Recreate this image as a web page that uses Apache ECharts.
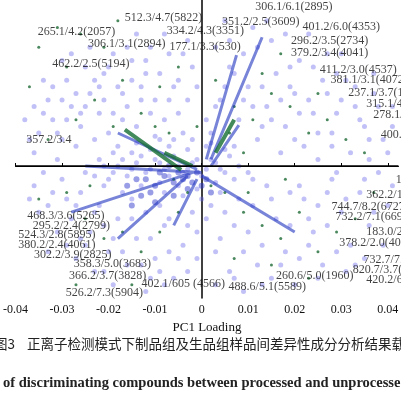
<!DOCTYPE html>
<html>
<head>
<meta charset="utf-8">
<script src="https://cdn.jsdelivr.net/npm/echarts@6/dist/echarts.min.js"></script>
<style>html,body{margin:0;padding:0;background:#fff}#main{width:401px;height:400px}</style>
</head>
<body>
<div id="main"></div>
<script>
// loadings, in thousandths (x = PC1, y = PC2)
var bluePts = [
 [-10,2],[-8,-1],[-6,3],[-4,-2],[-2,1],[0,-3],[2,2],[4,-1],[6,3],[-9,-5],[-5,-6],[-1,-7],[3,-5],[7,-4],[-11,5],[-7,6],[-3,5],[1,6],[5,5],[-12,-2],[-14,1],[-16,-3],[-13,-6],[8,0],[10,-2],[-15,4],[-18,0],[-20,-4],[-17,-8],[-22,2],
 [-35,10],[-32,14],[-30,8],[-28,18],[-26,12],[-24,22],[-22,16],[-20,10],[-18,24],[-16,18],[-14,12],[-12,28],[-10,20],[-8,14],[-6,24],[-4,10],[-2,30],[-36,4],[-33,20],[-29,26],[-25,30],[-21,28],[-19,34],[-15,32],[-11,36],[-7,34],[-3,38],[-27,6],[-23,8],[-17,14],[-13,20],[-9,8],[-5,16],[-38,14],[-31,2],[-34,26],[-24,36],[-14,40],[-30,32],[-19,4],
 [2,10],[4,20],[6,30],[8,14],[10,24],[12,8],[14,18],[16,28],[18,12],[20,22],[22,6],[24,16],[26,26],[28,10],[30,20],[32,4],[34,14],[36,8],[38,18],[40,4],[3,36],[9,34],[15,38],[21,32],[27,34],[11,42],[5,44],[17,4],[25,2],[33,24],[13,12],[19,30],[29,28],[7,6],[23,40],[37,28],[41,12],
 [-36,-6],[-33,-12],[-30,-4],[-28,-16],[-26,-8],[-24,-20],[-22,-12],[-20,-26],[-18,-16],[-16,-30],[-14,-22],[-12,-14],[-10,-28],[-8,-18],[-6,-34],[-4,-24],[-2,-14],[-31,-20],[-27,-28],[-23,-32],[-19,-36],[-15,-10],[-11,-34],[-7,-26],[-3,-32],[-34,-2],[-25,-2],[-21,-6],[-9,-12],[-1,-20],
 [2,-12],[4,-22],[6,-32],[8,-10],[10,-20],[12,-30],[14,-6],[16,-16],[18,-26],[20,-36],[22,-10],[24,-20],[26,-30],[28,-4],[30,-14],[32,-24],[34,-8],[36,-18],[38,-2],[40,-12],[3,-36],[9,-38],[15,-34],[21,-28],[27,-18],[31,-32],[35,-28],[11,-4],[19,-8],[25,-12],
 [-11,-1],[-9,1],[-7,-3],[-5,0],[-3,-1],[-1,2],[1,-1],[3,1],[5,-2],[-13,3],[-15,-1],[-17,2],[-19,-2],[-21,0],[-23,-3],[-8,-8],[-4,-9],[0,-10],[4,-8],[-6,8],[-2,8],[2,7],[-10,9],[-14,7],[-18,6],
 [-37,8],[-34,16],[-31,10],[-29,14],[-27,22],[-25,18],[-23,26],[-21,20],[-19,16],[-17,22],[-15,26],[-13,24],[-11,16],[-9,28],[-7,20],[-5,26],[-3,20],[-1,24],[-30,20],[-26,16],[-22,24],[-20,30],[-16,36],[-12,32],[-8,40],[-4,34],[-28,34],[-32,24],[-36,18],
 [1,14],[3,18],[5,24],[7,28],[9,20],[11,18],[13,24],[15,14],[17,20],[19,24],[21,16],[23,20],[25,10],[27,22],[29,16],[31,26],[33,18],[35,12],[37,22],[39,8],[6,38],[12,36],[18,40],[24,30],[30,34],[14,44],[20,8],[28,6],[36,2],[41,18],
 [-37,-10],[-35,-14],[-32,-8],[-29,-10],[-27,-12],[-25,-24],[-23,-14],[-21,-18],[-19,-22],[-17,-26],[-15,-16],[-13,-30],[-11,-22],[-9,-32],[-7,-16],[-5,-28],[-3,-18],[-1,-28],[-29,-24],[-26,-22],[-33,-26],[-21,-32],[-12,-38],[-8,-36],
 [1,-16],[3,-26],[5,-14],[7,-18],[9,-26],[11,-12],[13,-24],[15,-10],[17,-30],[19,-18],[21,-6],[23,-24],[25,-34],[27,-8],[29,-26],[31,-10],[33,-30],[35,-4],[37,-14],[39,-24],[7,-34],[13,-36],[23,-16],[29,-2],[41,-6]
];
// darker dense core around the origin
var corePts = [
 [-12,-4],[-10,-6],[-8,-3],[-6,-5],[-4,-4],[-2,-5],[-9,-2],[-7,0],[-5,-2],[-3,-3],[-1,-2],[1,-4],[-14,-4],[-16,-6],[-11,-8],[-6,-9],[-3,-7],[0,-6],[2,-8],[-13,-9],[-15,-12],[-10,-11]
];
var greenPts = [
 [-37,24],[-29,30],[-26,40],[-21,36],[-17,26],[-13,16],[-9,24],[-5,30],[-1,12],[-33,8],[-27,14],[-23,20],[-19,12],[-7,10],
 [3,26],[7,18],[11,14],[15,22],[19,18],[23,10],[27,14],[31,8],[35,4],[9,4],[17,34],[25,22],[13,28],
 [-35,-10],[-29,-8],[-25,-16],[-21,-22],[-17,-20],[-13,-26],[-9,-20],[-5,-14],[-3,-8],[-27,-36],[-15,-36],
 [5,-8],[9,-14],[13,-18],[17,-22],[21,-14],[25,-26],[29,-20],[33,-16],[7,-28],[15,-30],[23,-34],[37,-8],
 [-31,42],[-35,36],[-18,44],[-10,12],[-6,-4],[2,-6],[6,10],[-24,-6],[10,-8],[18,-4]
];
// dense streaks of overlapping points: [x1,y1,x2,y2]
var blueStreaks = [
 [2,2,13,39],[1,2,7.5,33.6],[2,0,8,12.4],[-18,10,-1,-1],[-25,0,0,-2],[0,-3,20,-20],[-2,-2,-28,-14],[-3,-3,-18,-22],[-1,-4,-6,-18]
];
var greenStreaks = [
 [-16.5,11,-4.4,-1.2],[-8,4,-2,0],[3,4,7,14]
];
var labelTexts = ['512.3/4.7(5822)','265.1/4.2(2057)','306.1/3.1(2894)','334.2/4.3(3351)','177.1/3.3(530)','462.2/2.5(5194)','357.2/3.4',
 '306.1/6.1(2895)','351.2/2.5(3609)','401.2/6.0(4353)','296.2/3.5(2734)','379.2/3.4(4041)','411.2/3.0(4537)','381.1/3.1(4072)','237.1/3.7(1183)','315.1/4.2(3091)','278.1/3.0(2470)','400.2/5.9(4311)','153.1/2.1(212)',
 '362.2/10.4(3677)','744.7/8.2(6727)','732.2/7.1(6691)','183.0/2.9(951)','378.2/2.0(4021)','732.7/7.0(6693)','820.7/3.7(6902)','420.2/6.3(4659)',
 '260.6/5.0(1960)','488.6/5.1(5589)','402.1/605 (4566)','526.2/7.3(5904)','366.2/3.7(3828)','358.3/5.0(3683)','302.2/3.9(2825)','380.2/2.4(4061)','524.3/2.8(5895)','295.2/2.4(2799)','468.3/3.6(5265)'];
var labelPos = [[-16.5,44.8],[-35.2,40.6],[-24.4,37.0],[-7.5,40.9],[-6.9,36.1],[-32.1,30.9],[-37.7,7.9],
 [11.5,48.2],[4.4,43.6],[21.7,42.1],[19.2,37.9],[19.2,34.2],[25.4,29.1],[27.7,26.1],[31.5,22.1],[35.4,18.8],[36.9,15.5],[38.5,9.4],[41.7,-4.2],
 [35.4,-8.8],[27.9,-12.4],[28.75,-15.5],[35.4,-20],[29.6,-23.3],[34.8,-28.5],[32.5,-31.5],[35.4,-34.5],
 [16.0,-33.3],[5.8,-36.7],[-12.9,-35.8],[-29.2,-38.5],[-28.5,-33.3],[-27.5,-29.7],[-36.0,-27.0],[-39.4,-23.9],[-39.4,-20.9],[-36.3,-18.2],[-37.5,-15.2]];
var xTicks = [-0.04,-0.03,-0.02,-0.01,0,0.01,0.02,0.03,0.04];

function k(p){ return [p[0]/1000, p[1]/1000]; }
function segs(list){
  var out = [];
  list.forEach(function(s){ out.push([s[0]/1000,s[1]/1000]); out.push([s[2]/1000,s[3]/1000]); out.push([null,null]); });
  return out;
}

var myChart = echarts.init(document.getElementById('main'));
var serif = 'Liberation Serif';
var option = {
  animation:false,
  grid:{left:6,right:0,top:0,bottom:102},
  xAxis:{
    type:'value', min:-0.04, max:0.0423, interval:0.01,
    splitLine:{show:false},
    axisLine:{lineStyle:{color:'#000',width:1}},
    axisTick:{inside:true,length:3,lineStyle:{color:'#000'}},
    axisLabel:{color:'#111',fontFamily:serif,fontSize:12,margin:6,
      formatter:function(v){ var r=Math.round(v*100)/100; return xTicks.indexOf(r)>=0 ? (r===0?'0':String(r)) : ''; }},
    name:'PC1 Loading', nameLocation:'middle', nameGap:22,
    nameTextStyle:{color:'#111',fontFamily:serif,fontSize:13}
  },
  yAxis:{
    type:'value', min:-0.04, max:0.0503,
    splitLine:{show:false},
    axisLine:{onZero:true,lineStyle:{color:'#000',width:1.5}},
    axisTick:{show:false}, axisLabel:{show:false}
  },
  series:[
    {type:'scatter',data:bluePts.map(k),symbolSize:5,itemStyle:{color:'rgba(100,100,235,0.5)'},
     markLine:{silent:true,symbol:'none',label:{show:false},lineStyle:{color:'#000',type:'solid',width:1.5},data:[{yAxis:0}]}},
    {type:'scatter',data:corePts.map(k),symbolSize:6,itemStyle:{color:'rgba(40,50,200,0.6)'}},
    {type:'line',data:segs(blueStreaks),showSymbol:false,connectNulls:false,lineStyle:{color:'rgba(30,50,190,0.6)',width:3}},
    {type:'line',data:segs(greenStreaks),showSymbol:false,connectNulls:false,lineStyle:{color:'rgba(20,110,50,0.8)',width:4}},
    {type:'scatter',data:greenPts.map(k),symbolSize:3,itemStyle:{color:'#1d6a34'}},
    {type:'scatter',data:labelPos.map(function(p,i){return {value:k(p),name:labelTexts[i]};}),
     symbolSize:0,clip:false,
     label:{show:true,position:'inside',align:'left',formatter:'{b}',color:'#111',fontFamily:serif,fontSize:12}}
  ],
  graphic:[
    {type:'text',left:-6,top:337,style:{text:'图3    正离子检测模式下制品组及生品组样品间差异性成分分析结果载荷图',fill:'#222',font:'13.5px "Noto Sans CJK SC"'}},
    {type:'text',left:3,top:376,style:{text:'of discriminating compounds between processed and unprocessed samples',fill:'#222',font:'bold 14.5px "Liberation Serif"'}}
  ]
};
myChart.setOption(option);
</script>
</body>
</html>
